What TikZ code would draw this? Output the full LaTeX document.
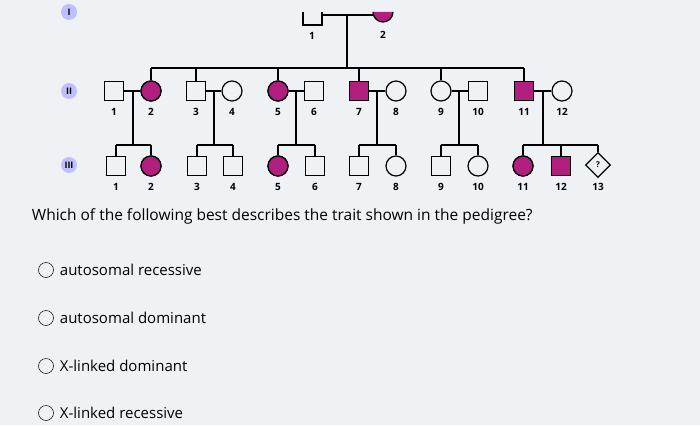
\documentclass[tikz,border=0pt]{standalone}
\usepackage{fontspec}
\setmainfont{Open Sans}
\usetikzlibrary{shapes.geometric}
\definecolor{aff}{HTML}{B01F7E}
\definecolor{bg}{HTML}{EEF2F4}
\begin{document}
\begin{tikzpicture}[x=1pt,y=-1pt,line width=1.2pt,
  male/.style={draw,minimum size=19pt,inner sep=0pt},
  female/.style={draw,circle,minimum size=20pt,inner sep=0pt},
  unk/.style={draw,diamond,minimum size=25pt,inner sep=0pt,font=\bfseries\fontsize{8}{9}\selectfont},
  af/.style={fill=aff},
  lab/.style={font=\bfseries\fontsize{10}{12}\selectfont},
  gen/.style={circle,fill=blue!25,inner sep=1pt,minimum size=16pt,font=\bfseries\fontsize{9}{10}\selectfont},
  opt/.style={draw,circle,line width=0.5pt,minimum size=15pt,inner sep=0pt},
  opttext/.style={anchor=west,font=\fontsize{15}{17}\selectfont}]
\useasboundingbox[fill=bg] (0,0) rectangle (700,425);
\clip (0,0) rectangle (700,425);
\node[gen] (gI) at (69,12) {I};
\node[gen] (gII) at (69,91) {II};
\node[gen] (gIII) at (69,165) {III};
% Gen I
\coordinate (i1a) at (303,12);
\coordinate (i1b) at (322,12);
\draw (i1a) -- (303,25) -- (322,25) -- (i1b);
\node[lab] at (312,36) {1};
\node[lab] at (383,35) {2};
\coordinate (m0) at (347,15);
\coordinate (i2c) at (383,12);
\fill[aff] ([xshift=-10pt]i2c) arc[start angle=180,end angle=360,radius=10pt] -- cycle;
\draw ([xshift=-10pt]i2c) arc[start angle=180,end angle=360,radius=10pt];
\draw (322,15) -- ([xshift=-10pt]i2c |- m0);
% Gen II
\foreach \n/\x/\s in {1/114/male,2/151/female,3/196/male,4/232/female,5/278/female,6/314/male,7/359/male,8/396/female,9/441/female,10/478/male,11/524/male,12/562/female}{
  \node[\s] (ii\n) at (\x,91) {};
  \node[lab] at (\x,112) {\n};
}
\foreach \n in {2,5}{\node[female,af] at (ii\n) {};}
\node[male,af] at (ii7) {};\node[male,af] at (ii11) {};
\coordinate (s0) at (347,68);
\draw (m0) -- (s0);
\draw (ii2.north |- s0) -- (ii11.north |- s0);
\foreach \n in {2,3,5,7,9,11}{\draw (ii\n.north |- s0) -- (ii\n.north);}
% Gen III
\foreach \n/\x/\s in {1/116/male,2/151/female,3/197/male,4/233/male,5/278/female,6/315/male,7/359/male,8/396/female,9/441/male,10/478/female,11/523/female,12/561/male}{
  \node[\s] (iii\n) at (\x,166) {};
  \node[lab] at (\x,187) {\n};
}
\node[female,af] at (iii2) {};\node[female,af] at (iii5) {};\node[female,af] at (iii11) {};\node[male,af] at (iii12) {};
\node[unk] (iii13) at (598,165) {?};
\node[lab] at (598,187) {13};
% marriages and descent
\foreach \a/\b/\c/\d/\mx in {1/2/1/2/133,3/4/3/4/214,5/6/5/6/296,7/8/7/8/377,9/10/9/10/459,11/12/11/13/543}{
  \draw (ii\a.east) -- (ii\b.west);
  \draw (\mx,91) -- (\mx,145);
  \draw (iii\c.north |- 0,145) -- (iii\c.north);
  \draw (iii\d.north |- 0,145) -- (iii\d.north);
  \draw (iii\c.north |- 0,145) -- (iii\d.north |- 0,145);
}
\draw (iii12.north |- 0,145) -- (iii12.north);
% text
\node[anchor=west,font=\fontsize{15.5}{18}\selectfont] (q) at (28,216) {Which of the following best describes the trait shown in the pedigree?};
\foreach \y/\t [count=\k] in {270/autosomal recessive,318/autosomal dominant,366/X-linked dominant,413/X-linked recessive}{
  \node[opt] (o\k) at (46,\y) {};
  \node[opttext] at (56,\y) {\t};
}
\end{tikzpicture}
\end{document}
